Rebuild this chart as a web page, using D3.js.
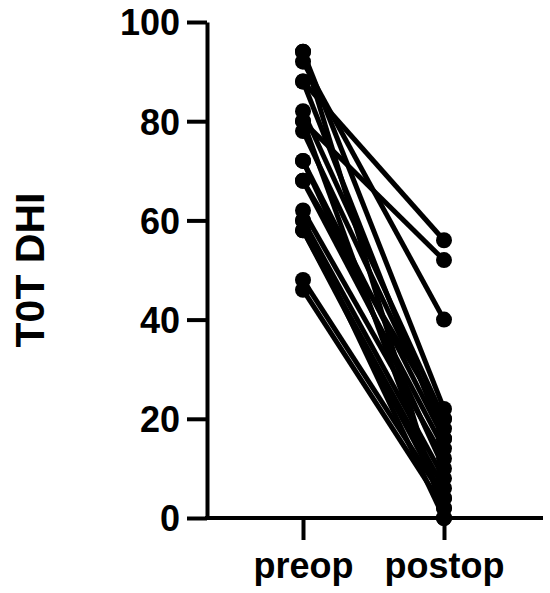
<!DOCTYPE html>
<html><head><meta charset="utf-8">
<script src="https://cdn.jsdelivr.net/npm/d3@7"></script>
<style>body{margin:0;background:#fff}svg{display:block}</style>
</head><body>
<svg id="c" width="550" height="593"></svg>
<script>
const categories = ["preop", "postop"];
const preop  = [88, 80, 92, 94, 82, 78, 72, 68, 62, 60, 58, 48, 46, 94, 80, 72, 68, 60, 88, 58];
const postop = [56, 52, 40, 22, 20, 18, 16, 14, 12,  8,  6,  4,  2,  0,  2, 10, 20,  0, 16,  4];
const yTicks = [0, 20, 40, 60, 80, 100];
const yTitle = "T0T DHI";

const svg = d3.select("#c");
const font = "'Liberation Sans', Arial, sans-serif";
const y = d3.scaleLinear().domain([0, 100]).range([518, 22]);
const x = d3.scalePoint().domain(categories).range([303, 444]);
const axisX0 = 207, axisX1 = 543;

// pair lines
const pairs = preop.map((v, i) => [v, postop[i]]);
svg.append("g").selectAll("line").data(pairs).join("line")
  .attr("x1", x("preop")).attr("y1", d => y(d[0]))
  .attr("x2", x("postop")).attr("y2", d => y(d[1]))
  .attr("stroke", "#000").attr("stroke-width", 5);

// y axis
const ya = svg.append("g").attr("transform", `translate(${axisX0},0)`)
  .call(d3.axisLeft(y).tickValues(yTicks).tickSize(20).tickPadding(7).tickSizeOuter(0));
ya.select(".domain").attr("stroke-width", 4).attr("stroke", "#000");
ya.selectAll(".tick line").attr("stroke-width", 4).attr("stroke", "#000");
ya.selectAll("text").attr("font-family", font).attr("font-weight", "bold")
  .attr("font-size", 36).attr("fill", "#000").attr("dy", "0.36em");

// x axis
const xa = svg.append("g").attr("transform", `translate(0,${y(0)})`)
  .call(d3.axisBottom(x).tickSize(22).tickPadding(12).tickSizeOuter(0));
xa.select(".domain").attr("d", `M${axisX0 - 2},0H${axisX1}`).attr("stroke-width", 4).attr("stroke", "#000");
xa.selectAll(".tick line").attr("stroke-width", 4).attr("stroke", "#000");
xa.selectAll("text").attr("font-family", font).attr("font-weight", "bold")
  .attr("font-size", 36).attr("fill", "#000").attr("dy", "0.71em");

// dots
const pts = [];
preop.forEach(v => pts.push({c: "preop", v}));
postop.forEach(v => pts.push({c: "postop", v}));
svg.append("g").selectAll("circle").data(pts).join("circle")
  .attr("cx", d => x(d.c)).attr("cy", d => y(d.v)).attr("r", 8).attr("fill", "#000");

// y title
svg.append("text").attr("transform", "translate(44,270) rotate(-90)")
  .attr("text-anchor", "middle").attr("font-family", font).attr("font-weight", "bold")
  .attr("font-size", 41).attr("fill", "#000").text(yTitle);
</script>
</body></html>
